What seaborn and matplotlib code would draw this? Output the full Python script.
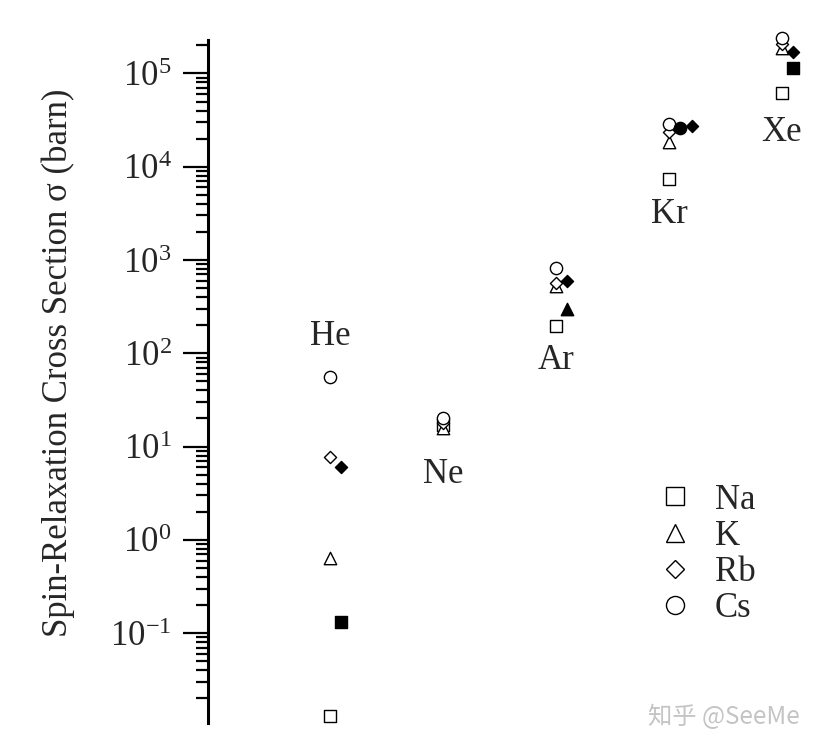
import numpy as np
import pandas as pd
import matplotlib
matplotlib.use("Agg")
import matplotlib.pyplot as plt
import seaborn as sns
from matplotlib.lines import Line2D
from matplotlib.ticker import LogLocator, FixedLocator, NullFormatter

# noble gases along the x direction
gases = ["He", "Ne", "Ar", "Kr", "Xe"]

# open symbols: one series per alkali metal (barn)
na_sigma = [0.013, 17, 195, 7340, 61300]
k_sigma = [0.64, 16, 520, 18600, 186000]
rb_sigma = [7.7, 18, 560, 23500, 205000]
cs_sigma = [56, 20, 820, 28700, 242000]

# filled symbols: other measurements, drawn just right of the gas
na_solid_gas = ["He", "Xe"]
na_solid = [0.133, 114000]
k_solid_gas = ["Ar"]
k_solid = [297]
rb_solid_gas = ["He", "Ar", "Kr", "Xe"]
rb_solid = [6.1, 600, 27400, 169000]
rb_solid_shift = [0.1, 0.1, 0.2, 0.1]
cs_solid_gas = ["Kr"]
cs_solid = [25800]

# where the gas names sit (barn)
label_sigma = [150, 5.0, 84, 3100, 23000]

major_ticks = [1e-1, 1e0, 1e1, 1e2, 1e3, 1e4, 1e5]

alkalis = ["Na", "K", "Rb", "Cs"]
markers = {"Na": "s", "K": "^", "Rb": "D", "Cs": "o"}
sizes = {"Na": 72, "K": 80, "Rb": 38, "Cs": 78}

gas_x = {g: i + 1 for i, g in enumerate(gases)}

open_df = pd.DataFrame({
    "gas": gases * 4,
    "alkali": sum([[a] * 5 for a in alkalis], []),
    "sigma": na_sigma + k_sigma + rb_sigma + cs_sigma,
})
open_df["x"] = open_df["gas"].map(gas_x)

solid_df = pd.DataFrame({
    "gas": na_solid_gas + k_solid_gas + rb_solid_gas + cs_solid_gas,
    "alkali": ["Na"] * 2 + ["K"] + ["Rb"] * 4 + ["Cs"],
    "sigma": na_solid + k_solid + rb_solid + cs_solid,
    "shift": [0.1, 0.1] + [0.1] + rb_solid_shift + [0.1],
})
solid_df["x"] = solid_df["gas"].map(gas_x) + solid_df["shift"]

sns.set_style("ticks")
plt.rcParams["font.family"] = ["Liberation Serif", "DejaVu Serif"]
plt.rcParams["mathtext.fontset"] = "stix"

fig = plt.figure(figsize=(8.21, 7.5), dpi=100)
ax = fig.add_axes([0.253, 0.0356, 0.747, 0.911])

for a in alkalis:
    sub = open_df[open_df["alkali"] == a]
    sns.scatterplot(data=sub, x="x", y="sigma", marker=markers[a], s=sizes[a],
                    facecolor="white", edgecolor="black", linewidth=1.0,
                    ax=ax, legend=False, clip_on=False, zorder=3)
    sub = solid_df[solid_df["alkali"] == a]
    if len(sub):
        sns.scatterplot(data=sub, x="x", y="sigma", marker=markers[a], s=sizes[a],
                        color="black", edgecolor="black", linewidth=1.0,
                        ax=ax, legend=False, clip_on=False, zorder=4)

for g, ys in zip(gases, label_sigma):
    ax.text(gas_x[g], ys, g, fontsize=25, ha="center", va="center")

ax.set_yscale("log")
ax.set_ylim(0.0108, 2.28e5)
ax.set_xlim(-0.082, 5.345)

ax.yaxis.set_major_locator(FixedLocator(major_ticks))
ax.yaxis.set_minor_locator(LogLocator(base=10, subs=np.arange(2, 10), numticks=100))
ax.yaxis.set_minor_formatter(NullFormatter())
ax.tick_params(axis="y", which="major", length=18, width=1.6, labelsize=25, pad=8,
               direction="out", color="black")
ax.tick_params(axis="y", which="minor", length=9, width=1.6, direction="out", color="black")

sns.despine(ax=ax, bottom=True)
ax.spines["left"].set_linewidth(2.2)
ax.spines["left"].set_color("black")
ax.set_xticks([])
ax.set_xlabel("")

ax.set_ylabel("Spin-Relaxation Cross Section σ (barn)", fontsize=25)
ax.yaxis.set_label_coords(-0.217, 0.527)

handles = [
    Line2D([], [], linestyle="none", marker="s", markersize=13, markerfacecolor="white",
           markeredgecolor="black", markeredgewidth=1.0),
    Line2D([], [], linestyle="none", marker="^", markersize=13, markerfacecolor="white",
           markeredgecolor="black", markeredgewidth=1.0),
    Line2D([], [], linestyle="none", marker="D", markersize=9, markerfacecolor="white",
           markeredgecolor="black", markeredgewidth=1.0),
    Line2D([], [], linestyle="none", marker="o", markersize=13, markerfacecolor="white",
           markeredgecolor="black", markeredgewidth=1.0),
]
fig.legend(handles, alkalis, loc="center left", bbox_to_anchor=(0.801, 0.261),
           frameon=False, fontsize=25, handlelength=1.0, handletextpad=0.64,
           borderpad=0, labelspacing=0.09, borderaxespad=0)

fig.text(0.789, 0.044, "知乎 @SeeMe", fontsize=17.5, color="#c4c4c4",
         family=["Noto Sans CJK SC", "DejaVu Sans"], ha="left", va="center")

fig.savefig("out.png", dpi=100)
